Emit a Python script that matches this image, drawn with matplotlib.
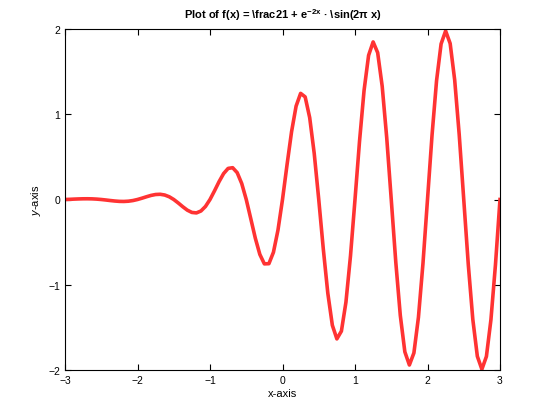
import numpy as np
import matplotlib
matplotlib.use("Agg")
import matplotlib.pyplot as plt

plt.rcParams['font.family'] = ['Liberation Sans', 'DejaVu Sans']
plt.rcParams['mathtext.fontset'] = 'custom'
plt.rcParams['mathtext.rm'] = 'Liberation Sans'
plt.rcParams['mathtext.it'] = 'Liberation Sans:italic'

# sample positions, step 1/16 from -3 to 3
x_start, x_stop, n_pts = -3.0, 3.0, 97
# curve values at those positions
y_vals = [
    0, .002, .0045, .0067, .0082, .0085, .0074, .0045,
    0, -.0058, -.0122, -.0179, -.022, -.023, -.0199, -.0122,
    0, .0156, .0325, .0481, .0586, .0612, .0527, .0322,
    0, -.041, -.0852, -.1252, -.1517, -.1573, -.1348, -.0817,
    0, .1019, .2093, .304, .3648, .3729, .3149, .1877,
    0, -.2254, -.4536, -.6443, -.7551, -.7528, -.619, -.3591,
    0, .4069, .795, 1.0952, 1.2449, 1.2037, .9604, .5406,
    0, -.5783, -1.0991, -1.4751, -1.6352, -1.544, -1.2047, -.6641,
    0, .6843, 1.2792, 1.6907, 1.8483, 1.7228, 1.3288, .725,
    0, -.7338, -1.3613, -1.7868, -1.9414, -1.7999, -1.3815, -.7504,
    0, .7538, 1.3941, 1.825, 1.978, 1.8301, 1.4018, .7602,
    0, -.7615, -1.4066, -1.8395, -1.9918, -1.8413, -1.4095, -.7639,
    0,
]
x_vals = np.linspace(x_start, x_stop, n_pts)

fig = plt.figure(figsize=(5.37, 4.14), dpi=100)
ax = fig.add_axes([65/537, 43/414, 435/537, 341/414])
ax.plot(x_vals, y_vals, color='#ff3333', lw=2.6, solid_joinstyle='round')
ax.set_xlim(-3, 3)
ax.set_ylim(-2, 2)
ax.set_xticks([-3, -2, -1, 0, 1, 2, 3])
ax.set_yticks([-2, -1, 0, 1, 2])
ax.tick_params(direction='in', labelsize=7.5, top=True, right=True, length=4)
ax.set_xlabel('x-axis', fontsize=8, labelpad=2)
ax.set_ylabel('$\\mathit{y}$-axis', fontsize=8, labelpad=4)
ax.set_title('Plot of f(x) = \\frac21 + e$^{\\mathregular{-2x}}$ · \\sin(2π x)',
             fontsize=8, fontweight='bold', pad=8)
fig.savefig('out.png', dpi=100)
